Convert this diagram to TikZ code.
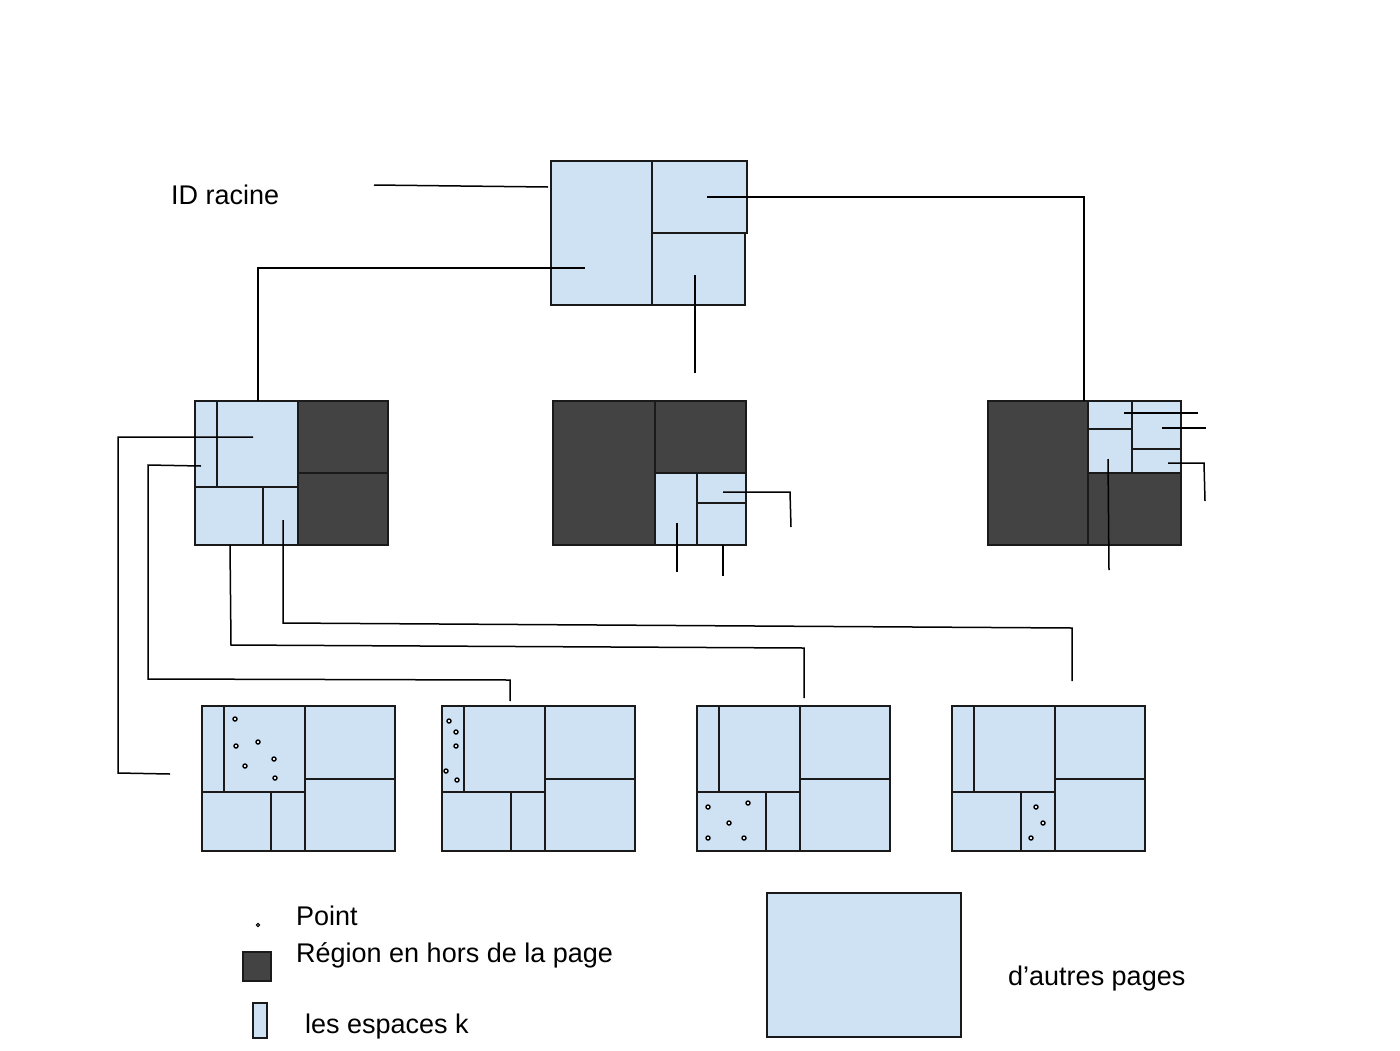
\documentclass[tikz,border=0pt]{standalone}
\usepackage{fontspec}
\setmainfont{Liberation Sans}
\definecolor{lb}{HTML}{CFE2F3}
\definecolor{dk}{HTML}{434343}
\definecolor{edge}{HTML}{1A1A1A}
\tikzset{
  lcell/.style={fill=lb, draw=edge, line width=1.9pt},
  dcell/.style={fill=dk, draw=edge, line width=1.9pt},
  conn/.style={draw=black, line width=1.5pt, line join=miter},
  pt/.style={draw=black, fill=white, line width=1.4pt},
  lbl/.style={anchor=base west, inner sep=0pt, font=\fontsize{27}{32}\selectfont}
}
\newcommand\pagebox[2]{%
  \begin{scope}[shift={(#1,#2)}]
    \draw[lcell] (0,0) rectangle (22,86);
    \draw[lcell] (22,0) rectangle (103,86);
    \draw[lcell] (0,86) rectangle (69,145);
    \draw[lcell] (69,86) rectangle (103,145);
    \draw[lcell] (103,0) rectangle (193,73);
    \draw[lcell] (103,73) rectangle (193,145);
  \end{scope}}
\begin{document}
\begin{tikzpicture}[x=1pt,y=-1pt]
\useasboundingbox (0,0) rectangle (1400,1050);
\fill[white] (0,0) rectangle (1400,1050);

% ---------- top page (root)
\draw[lcell] (551,161) rectangle (652,305);
\draw[lcell] (652,161) rectangle (747,233);
\draw[lcell] (652,233) rectangle (745,305);

% ---------- middle left
\draw[lcell] (195,401) rectangle (217,487);
\draw[lcell] (217,401) rectangle (298,487);
\draw[lcell] (195,487) rectangle (263,545);
\draw[lcell] (263,487) rectangle (298,545);
\draw[dcell] (298,401) rectangle (388,473);
\draw[dcell] (298,473) rectangle (388,545);

% ---------- middle centre
\draw[dcell] (553,401) rectangle (655,545);
\draw[dcell] (655,401) rectangle (746,473);
\draw[lcell] (655,473) rectangle (697,545);
\draw[lcell] (697,473) rectangle (746,503);
\draw[lcell] (697,503) rectangle (746,545);

% ---------- middle right
\draw[dcell] (988,401) rectangle (1088,545);
\draw[lcell] (1088,401) rectangle (1132,429);
\draw[lcell] (1088,429) rectangle (1132,473);
\draw[lcell] (1132,401) rectangle (1181,449);
\draw[lcell] (1132,449) rectangle (1181,473);
\draw[dcell] (1088,473) rectangle (1181,545);

% ---------- bottom pages
\pagebox{202}{706}
\pagebox{442}{706}
\pagebox{697}{706}
\pagebox{952}{706}

% points
\foreach \p in {(235,719),(236,746),(258,742),(274,759),(245,766),(275,778),
                (449,721),(456,732),(456,746),(446,771),(457,780),
                (708,807),(748,803),(729,823),(708,838),(744,838),
                (1036,807),(1043,823),(1031,838)}
  \draw[pt] \p circle (2.0);

% ---------- connector end points
\coordinate (r0) at (374,185);  \coordinate (r0e) at (548,187);
\coordinate (rL) at (585,268);  \coordinate (mlTop) at (258,401);
\coordinate (rR) at (707,197);  \coordinate (mrTop) at (1084,401);
\coordinate (rB) at (695,275);  \coordinate (rBe) at (695,373);

\coordinate (a1) at (253,437); \coordinate (a1e) at (170,774);
\coordinate (a2) at (201,466); \coordinate (b2Top) at (510,701);
\coordinate (a3) at (230,545); \coordinate (b3Top) at (804,698);
\coordinate (a4) at (283,520); \coordinate (b4Top) at (1072,681);

\coordinate (m1) at (723,492); \coordinate (m1e) at (791,527);
\coordinate (m2) at (677,523); \coordinate (m2e) at (677,572);
\coordinate (m3) at (723,545); \coordinate (m3e) at (723,576);

\coordinate (n1) at (1124,413); \coordinate (n1e) at (1198,413);
\coordinate (n2) at (1162,428); \coordinate (n2e) at (1206,428);
\coordinate (n3) at (1168,463); \coordinate (n3e) at (1205,501);
\coordinate (n4) at (1108,459); \coordinate (n4e) at (1109,570);

% ---------- connectors
\draw[conn] (r0) -- (r0e);
\draw[conn] (rL) -| (mlTop);
\draw[conn] (rR) -| (mrTop);
\draw[conn] (rB) -- (rBe);

\draw[conn] (a1) -- (118,437) -- (118,773) -- (a1e);
\draw[conn] (a2) -- (148,465) -- (148,679) -- (510,680) -- (b2Top);
\draw[conn] (a3) -- (231,645) -- (804,648) -- (b3Top);
\draw[conn] (a4) -- (283,623) -- (1072,628) -- (b4Top);

\draw[conn] (m1) -- (790,492) -- (m1e);
\draw[conn] (m2) -- (m2e);
\draw[conn] (m3) -- (m3e);

\draw[conn] (n1) -- (n1e);
\draw[conn] (n2) -- (n2e);
\draw[conn] (n3) -- (1204,463) -- (n3e);
\draw[conn] (n4) -- (n4e);

% ---------- labels
\node[lbl] (idr) at (171,204) {ID racine};

% ---------- legend
\draw[pt, line width=1pt] (258,925) circle (1.6);
\node[lbl] (lpt) at (296,925) {Point};
\draw[dcell, line width=1.4pt] (243,952) rectangle (271,981);
\node[lbl] (lreg) at (296,962) {Région en hors de la page};
\draw[lcell, line width=1.4pt] (253,1003) rectangle (267,1038);
\node[lbl] (lesp) at (305,1033) {les espaces k};
\draw[lcell] (767,893) rectangle (961,1037);
\node[lbl] (laut) at (1008,985) {d’autres pages};
\end{tikzpicture}
\end{document}
